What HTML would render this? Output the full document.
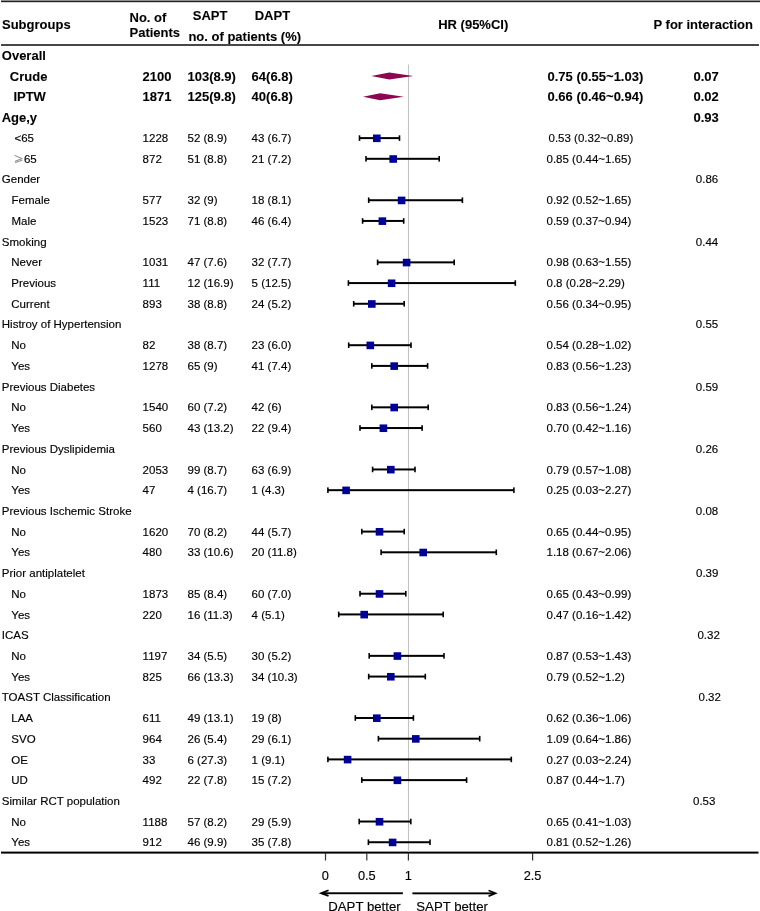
<!DOCTYPE html><html><head><meta charset="utf-8"><style>html,body{margin:0;padding:0;background:#fff;width:760px;height:911px;overflow:hidden}svg{display:block;will-change:transform}text{font-family:"Liberation Sans",sans-serif;fill:#000}.b{font-weight:bold;font-size:13px;stroke:#000;stroke-width:0.1px}.r{font-size:11.5px;stroke:#000;stroke-width:0.15px}</style></head><body>
<svg width="760" height="911" viewBox="0 0 760 911">
<rect x="1" y="0.5" width="759" height="1.7" fill="#222"/>
<rect x="1" y="44.1" width="758" height="1.8" fill="#333"/>
<rect x="1" y="851.6" width="757.5" height="2" fill="#000"/>
<rect x="407.95" y="64.5" width="1.1" height="787.5" fill="#c2c2c2"/>
<text class="b" x="2" y="28.8">Subgroups</text>
<text class="b" x="129.5" y="21.6">No. of</text>
<text class="b" x="129.5" y="37.1">Patients</text>
<text class="b" x="192.8" y="19.9">SAPT</text>
<text class="b" x="254.7" y="19.9">DAPT</text>
<text class="b" x="188.4" y="40.8">no. of patients (%)</text>
<text class="b" x="438.2" y="28.5">HR (95%CI)</text>
<text class="b" x="653.5" y="29.4">P for interaction</text>
<text class="b" x="1.8" y="59.8">Overall</text>
<text class="b" x="9.8" y="80.5">Crude</text>
<text class="b" x="142.6" y="80.5">2100</text>
<text class="b" x="187.5" y="80.5">103(8.9)</text>
<text class="b" x="251.6" y="80.5">64(6.8)</text>
<text class="b" x="547.5" y="80.5">0.75 (0.55~1.03)</text>
<text class="b" x="693.5" y="80.5">0.07</text>
<polygon points="371.3,75.97 389.3,72.47 413.3,75.97 389.3,79.47" fill="#8c0652"/>
<text class="b" x="13.4" y="101.2">IPTW</text>
<text class="b" x="142.6" y="101.2">1871</text>
<text class="b" x="187.5" y="101.2">125(9.8)</text>
<text class="b" x="251.6" y="101.2">40(6.8)</text>
<text class="b" x="547.5" y="101.2">0.66 (0.46~0.94)</text>
<text class="b" x="693.5" y="101.2">0.02</text>
<polygon points="363,96.68 380.1,93.18 403.8,96.68 380.1,100.18" fill="#8c0652"/>
<text class="b" x="1.7" y="121.9">Age,y</text>
<text class="b" x="693.5" y="121.9">0.93</text>
<text class="r" x="14.5" y="141.5">&lt;65</text>
<text class="r" x="142.6" y="141.5">1228</text>
<text class="r" x="187.5" y="141.5">52 (8.9)</text>
<text class="r" x="251.6" y="141.5">43 (6.7)</text>
<text class="r" x="548.5" y="141.5">0.53 (0.32~0.89)</text>
<rect x="359.5" y="137.10" width="40.00" height="2.0" fill="#000"/>
<rect x="358.7" y="135.30" width="1.6" height="5.6" fill="#000"/>
<rect x="398.7" y="135.30" width="1.6" height="5.6" fill="#000"/>
<rect x="373.0" y="134.50" width="7.6" height="7.6" fill="#000098"/>
<path d="M14.6,155.4 L22.2,158.6 L14.9,161.3 M15.2,162.6 L22.2,160.2" stroke="#777" stroke-width="0.9" fill="none"/>
<text class="r" x="23.9" y="162.7">65</text>
<text class="r" x="142.6" y="162.7">872</text>
<text class="r" x="187.5" y="162.7">51 (8.8)</text>
<text class="r" x="251.6" y="162.7">21 (7.2)</text>
<text class="r" x="546.5" y="162.7">0.85 (0.44~1.65)</text>
<rect x="366" y="157.81" width="73.20" height="2.0" fill="#000"/>
<rect x="365.2" y="156.01" width="1.6" height="5.6" fill="#000"/>
<rect x="438.4" y="156.01" width="1.6" height="5.6" fill="#000"/>
<rect x="389.4" y="155.21" width="7.6" height="7.6" fill="#000098"/>
<text class="r" x="1.8" y="183.4">Gender</text>
<text class="r" x="695.8" y="183.4">0.86</text>
<text class="r" x="11.5" y="204.1">Female</text>
<text class="r" x="142.6" y="204.1">577</text>
<text class="r" x="187.5" y="204.1">32 (9)</text>
<text class="r" x="251.6" y="204.1">18 (8.1)</text>
<text class="r" x="546.5" y="204.1">0.92 (0.52~1.65)</text>
<rect x="368.7" y="199.23" width="93.70" height="2.0" fill="#000"/>
<rect x="367.9" y="197.43" width="1.6" height="5.6" fill="#000"/>
<rect x="461.59999999999997" y="197.43" width="1.6" height="5.6" fill="#000"/>
<rect x="397.8" y="196.63" width="7.6" height="7.6" fill="#000098"/>
<text class="r" x="11.5" y="224.8">Male</text>
<text class="r" x="142.6" y="224.8">1523</text>
<text class="r" x="187.5" y="224.8">71 (8.8)</text>
<text class="r" x="251.6" y="224.8">46 (6.4)</text>
<text class="r" x="546.5" y="224.8">0.59 (0.37~0.94)</text>
<rect x="362.6" y="219.94" width="41.10" height="2.0" fill="#000"/>
<rect x="361.8" y="218.14" width="1.6" height="5.6" fill="#000"/>
<rect x="402.9" y="218.14" width="1.6" height="5.6" fill="#000"/>
<rect x="378.59999999999997" y="217.34" width="7.6" height="7.6" fill="#000098"/>
<text class="r" x="1.8" y="245.5">Smoking</text>
<text class="r" x="695.8" y="245.5">0.44</text>
<text class="r" x="11.3" y="266.3">Never</text>
<text class="r" x="142.6" y="266.3">1031</text>
<text class="r" x="187.5" y="266.3">47 (7.6)</text>
<text class="r" x="251.6" y="266.3">32 (7.7)</text>
<text class="r" x="546.5" y="266.3">0.98 (0.63~1.55)</text>
<rect x="377.6" y="261.36" width="76.60" height="2.0" fill="#000"/>
<rect x="376.8" y="259.56" width="1.6" height="5.6" fill="#000"/>
<rect x="453.4" y="259.56" width="1.6" height="5.6" fill="#000"/>
<rect x="402.8" y="258.76" width="7.6" height="7.6" fill="#000098"/>
<text class="r" x="11.3" y="287.0">Previous</text>
<text class="r" x="142.6" y="287.0">111</text>
<text class="r" x="187.5" y="287.0">12 (16.9)</text>
<text class="r" x="251.6" y="287.0">5 (12.5)</text>
<text class="r" x="546.5" y="287.0">0.8 (0.28~2.29)</text>
<rect x="348.4" y="282.07" width="166.90" height="2.0" fill="#000"/>
<rect x="347.59999999999997" y="280.27" width="1.6" height="5.6" fill="#000"/>
<rect x="514.5" y="280.27" width="1.6" height="5.6" fill="#000"/>
<rect x="387.8" y="279.47" width="7.6" height="7.6" fill="#000098"/>
<text class="r" x="11.3" y="307.7">Current</text>
<text class="r" x="142.6" y="307.7">893</text>
<text class="r" x="187.5" y="307.7">38 (8.8)</text>
<text class="r" x="251.6" y="307.7">24 (5.2)</text>
<text class="r" x="546.5" y="307.7">0.56 (0.34~0.95)</text>
<rect x="353.7" y="302.78" width="50.50" height="2.0" fill="#000"/>
<rect x="352.9" y="300.98" width="1.6" height="5.6" fill="#000"/>
<rect x="403.4" y="300.98" width="1.6" height="5.6" fill="#000"/>
<rect x="368.0" y="300.18" width="7.6" height="7.6" fill="#000098"/>
<text class="r" x="1.8" y="328.4">Histroy of Hypertension</text>
<text class="r" x="695.8" y="328.4">0.55</text>
<text class="r" x="11.3" y="349.1">No</text>
<text class="r" x="142.6" y="349.1">82</text>
<text class="r" x="187.5" y="349.1">38 (8.7)</text>
<text class="r" x="251.6" y="349.1">23 (6.0)</text>
<text class="r" x="546.5" y="349.1">0.54 (0.28~1.02)</text>
<rect x="348.7" y="344.20" width="62.30" height="2.0" fill="#000"/>
<rect x="347.9" y="342.40" width="1.6" height="5.6" fill="#000"/>
<rect x="410.2" y="342.40" width="1.6" height="5.6" fill="#000"/>
<rect x="366.5" y="341.60" width="7.6" height="7.6" fill="#000098"/>
<text class="r" x="11.3" y="369.9">Yes</text>
<text class="r" x="142.6" y="369.9">1278</text>
<text class="r" x="187.5" y="369.9">65 (9)</text>
<text class="r" x="251.6" y="369.9">41 (7.4)</text>
<text class="r" x="546.5" y="369.9">0.83 (0.56~1.23)</text>
<rect x="371.8" y="364.91" width="55.80" height="2.0" fill="#000"/>
<rect x="371.0" y="363.11" width="1.6" height="5.6" fill="#000"/>
<rect x="426.8" y="363.11" width="1.6" height="5.6" fill="#000"/>
<rect x="390.4" y="362.31" width="7.6" height="7.6" fill="#000098"/>
<text class="r" x="1.8" y="390.6">Previous Diabetes</text>
<text class="r" x="695.8" y="390.6">0.59</text>
<text class="r" x="11.3" y="411.3">No</text>
<text class="r" x="142.6" y="411.3">1540</text>
<text class="r" x="187.5" y="411.3">60 (7.2)</text>
<text class="r" x="251.6" y="411.3">42 (6)</text>
<text class="r" x="546.5" y="411.3">0.83 (0.56~1.24)</text>
<rect x="371.8" y="406.33" width="56.40" height="2.0" fill="#000"/>
<rect x="371.0" y="404.53" width="1.6" height="5.6" fill="#000"/>
<rect x="427.4" y="404.53" width="1.6" height="5.6" fill="#000"/>
<rect x="390.4" y="403.73" width="7.6" height="7.6" fill="#000098"/>
<text class="r" x="11.3" y="432.0">Yes</text>
<text class="r" x="142.6" y="432.0">560</text>
<text class="r" x="187.5" y="432.0">43 (13.2)</text>
<text class="r" x="251.6" y="432.0">22 (9.4)</text>
<text class="r" x="546.5" y="432.0">0.70 (0.42~1.16)</text>
<rect x="360" y="427.04" width="62.10" height="2.0" fill="#000"/>
<rect x="359.2" y="425.24" width="1.6" height="5.6" fill="#000"/>
<rect x="421.3" y="425.24" width="1.6" height="5.6" fill="#000"/>
<rect x="379.59999999999997" y="424.44" width="7.6" height="7.6" fill="#000098"/>
<text class="r" x="1.8" y="452.7">Previous Dyslipidemia</text>
<text class="r" x="695.8" y="452.7">0.26</text>
<text class="r" x="11.3" y="473.5">No</text>
<text class="r" x="142.6" y="473.5">2053</text>
<text class="r" x="187.5" y="473.5">99 (8.7)</text>
<text class="r" x="251.6" y="473.5">63 (6.9)</text>
<text class="r" x="546.5" y="473.5">0.79 (0.57~1.08)</text>
<rect x="372.6" y="468.46" width="42.40" height="2.0" fill="#000"/>
<rect x="371.8" y="466.66" width="1.6" height="5.6" fill="#000"/>
<rect x="414.2" y="466.66" width="1.6" height="5.6" fill="#000"/>
<rect x="387.0" y="465.86" width="7.6" height="7.6" fill="#000098"/>
<text class="r" x="11.3" y="494.2">Yes</text>
<text class="r" x="142.6" y="494.2">47</text>
<text class="r" x="187.5" y="494.2">4 (16.7)</text>
<text class="r" x="251.6" y="494.2">1 (4.3)</text>
<text class="r" x="546.5" y="494.2">0.25 (0.03~2.27)</text>
<rect x="327.9" y="489.17" width="186.00" height="2.0" fill="#000"/>
<rect x="327.09999999999997" y="487.37" width="1.6" height="5.6" fill="#000"/>
<rect x="513.1" y="487.37" width="1.6" height="5.6" fill="#000"/>
<rect x="342.3" y="486.57" width="7.6" height="7.6" fill="#000098"/>
<text class="r" x="1.8" y="514.9">Previous Ischemic Stroke</text>
<text class="r" x="695.8" y="514.9">0.08</text>
<text class="r" x="11.3" y="535.6">No</text>
<text class="r" x="142.6" y="535.6">1620</text>
<text class="r" x="187.5" y="535.6">70 (8.2)</text>
<text class="r" x="251.6" y="535.6">44 (5.7)</text>
<text class="r" x="546.5" y="535.6">0.65 (0.44~0.95)</text>
<rect x="361.8" y="530.59" width="42.40" height="2.0" fill="#000"/>
<rect x="361.0" y="528.79" width="1.6" height="5.6" fill="#000"/>
<rect x="403.4" y="528.79" width="1.6" height="5.6" fill="#000"/>
<rect x="375.7" y="527.99" width="7.6" height="7.6" fill="#000098"/>
<text class="r" x="11.3" y="556.3">Yes</text>
<text class="r" x="142.6" y="556.3">480</text>
<text class="r" x="187.5" y="556.3">33 (10.6)</text>
<text class="r" x="251.6" y="556.3">20 (11.8)</text>
<text class="r" x="546.5" y="556.3">1.18 (0.67~2.06)</text>
<rect x="381.1" y="551.30" width="115.20" height="2.0" fill="#000"/>
<rect x="380.3" y="549.50" width="1.6" height="5.6" fill="#000"/>
<rect x="495.5" y="549.50" width="1.6" height="5.6" fill="#000"/>
<rect x="419.4" y="548.70" width="7.6" height="7.6" fill="#000098"/>
<text class="r" x="1.8" y="577.1">Prior antiplatelet</text>
<text class="r" x="696.0" y="577.1">0.39</text>
<text class="r" x="11.3" y="597.8">No</text>
<text class="r" x="142.6" y="597.8">1873</text>
<text class="r" x="187.5" y="597.8">85 (8.4)</text>
<text class="r" x="251.6" y="597.8">60 (7.0)</text>
<text class="r" x="546.5" y="597.8">0.65 (0.43~0.99)</text>
<rect x="360" y="592.72" width="45.80" height="2.0" fill="#000"/>
<rect x="359.2" y="590.92" width="1.6" height="5.6" fill="#000"/>
<rect x="405.0" y="590.92" width="1.6" height="5.6" fill="#000"/>
<rect x="375.7" y="590.12" width="7.6" height="7.6" fill="#000098"/>
<text class="r" x="11.3" y="618.5">Yes</text>
<text class="r" x="142.6" y="618.5">220</text>
<text class="r" x="187.5" y="618.5">16 (11.3)</text>
<text class="r" x="251.6" y="618.5">4 (5.1)</text>
<text class="r" x="546.5" y="618.5">0.47 (0.16~1.42)</text>
<rect x="338.7" y="613.43" width="104.50" height="2.0" fill="#000"/>
<rect x="337.9" y="611.63" width="1.6" height="5.6" fill="#000"/>
<rect x="442.4" y="611.63" width="1.6" height="5.6" fill="#000"/>
<rect x="360.4" y="610.83" width="7.6" height="7.6" fill="#000098"/>
<text class="r" x="1.8" y="639.2">ICAS</text>
<text class="r" x="697.4" y="639.2">0.32</text>
<text class="r" x="11.3" y="660.0">No</text>
<text class="r" x="142.6" y="660.0">1197</text>
<text class="r" x="187.5" y="660.0">34 (5.5)</text>
<text class="r" x="251.6" y="660.0">30 (5.2)</text>
<text class="r" x="546.5" y="660.0">0.87 (0.53~1.43)</text>
<rect x="369.2" y="654.85" width="74.80" height="2.0" fill="#000"/>
<rect x="368.4" y="653.05" width="1.6" height="5.6" fill="#000"/>
<rect x="443.2" y="653.05" width="1.6" height="5.6" fill="#000"/>
<rect x="393.59999999999997" y="652.25" width="7.6" height="7.6" fill="#000098"/>
<text class="r" x="11.3" y="680.7">Yes</text>
<text class="r" x="142.6" y="680.7">825</text>
<text class="r" x="187.5" y="680.7">66 (13.3)</text>
<text class="r" x="251.6" y="680.7">34 (10.3)</text>
<text class="r" x="546.5" y="680.7">0.79 (0.52~1.2)</text>
<rect x="368.7" y="675.56" width="56.60" height="2.0" fill="#000"/>
<rect x="367.9" y="673.76" width="1.6" height="5.6" fill="#000"/>
<rect x="424.5" y="673.76" width="1.6" height="5.6" fill="#000"/>
<rect x="387.0" y="672.96" width="7.6" height="7.6" fill="#000098"/>
<text class="r" x="1.8" y="701.4">TOAST Classification</text>
<text class="r" x="698.5" y="701.4">0.32</text>
<text class="r" x="11.3" y="722.1">LAA</text>
<text class="r" x="142.6" y="722.1">611</text>
<text class="r" x="187.5" y="722.1">49 (13.1)</text>
<text class="r" x="251.6" y="722.1">19 (8)</text>
<text class="r" x="546.5" y="722.1">0.62 (0.36~1.06)</text>
<rect x="355.3" y="716.98" width="58.10" height="2.0" fill="#000"/>
<rect x="354.5" y="715.18" width="1.6" height="5.6" fill="#000"/>
<rect x="412.59999999999997" y="715.18" width="1.6" height="5.6" fill="#000"/>
<rect x="373.0" y="714.38" width="7.6" height="7.6" fill="#000098"/>
<text class="r" x="11.3" y="742.8">SVO</text>
<text class="r" x="142.6" y="742.8">964</text>
<text class="r" x="187.5" y="742.8">26 (5.4)</text>
<text class="r" x="251.6" y="742.8">29 (6.1)</text>
<text class="r" x="546.5" y="742.8">1.09 (0.64~1.86)</text>
<rect x="378.4" y="737.69" width="101.30" height="2.0" fill="#000"/>
<rect x="377.59999999999997" y="735.89" width="1.6" height="5.6" fill="#000"/>
<rect x="478.9" y="735.89" width="1.6" height="5.6" fill="#000"/>
<rect x="412.0" y="735.09" width="7.6" height="7.6" fill="#000098"/>
<text class="r" x="11.3" y="763.5">OE</text>
<text class="r" x="142.6" y="763.5">33</text>
<text class="r" x="187.5" y="763.5">6 (27.3)</text>
<text class="r" x="251.6" y="763.5">1 (9.1)</text>
<text class="r" x="546.5" y="763.5">0.27 (0.03~2.24)</text>
<rect x="327.9" y="758.40" width="183.40" height="2.0" fill="#000"/>
<rect x="327.09999999999997" y="756.60" width="1.6" height="5.6" fill="#000"/>
<rect x="510.5" y="756.60" width="1.6" height="5.6" fill="#000"/>
<rect x="343.8" y="755.80" width="7.6" height="7.6" fill="#000098"/>
<text class="r" x="11.3" y="784.3">UD</text>
<text class="r" x="142.6" y="784.3">492</text>
<text class="r" x="187.5" y="784.3">22 (7.8)</text>
<text class="r" x="251.6" y="784.3">15 (7.2)</text>
<text class="r" x="546.5" y="784.3">0.87 (0.44~1.7)</text>
<rect x="361.8" y="779.11" width="104.80" height="2.0" fill="#000"/>
<rect x="361.0" y="777.31" width="1.6" height="5.6" fill="#000"/>
<rect x="465.8" y="777.31" width="1.6" height="5.6" fill="#000"/>
<rect x="393.59999999999997" y="776.51" width="7.6" height="7.6" fill="#000098"/>
<text class="r" x="1.8" y="805.0">Similar RCT population</text>
<text class="r" x="693.0" y="805.0">0.53</text>
<text class="r" x="11.3" y="825.7">No</text>
<text class="r" x="142.6" y="825.7">1188</text>
<text class="r" x="187.5" y="825.7">57 (8.2)</text>
<text class="r" x="251.6" y="825.7">29 (5.9)</text>
<text class="r" x="546.5" y="825.7">0.65 (0.41~1.03)</text>
<rect x="359.2" y="820.53" width="51.60" height="2.0" fill="#000"/>
<rect x="358.4" y="818.73" width="1.6" height="5.6" fill="#000"/>
<rect x="410.0" y="818.73" width="1.6" height="5.6" fill="#000"/>
<rect x="375.7" y="817.93" width="7.6" height="7.6" fill="#000098"/>
<text class="r" x="11.3" y="846.4">Yes</text>
<text class="r" x="142.6" y="846.4">912</text>
<text class="r" x="187.5" y="846.4">46 (9.9)</text>
<text class="r" x="251.6" y="846.4">35 (7.8)</text>
<text class="r" x="546.5" y="846.4">0.81 (0.52~1.26)</text>
<rect x="368.4" y="841.24" width="61.60" height="2.0" fill="#000"/>
<rect x="367.59999999999997" y="839.44" width="1.6" height="5.6" fill="#000"/>
<rect x="429.2" y="839.44" width="1.6" height="5.6" fill="#000"/>
<rect x="388.8" y="838.64" width="7.6" height="7.6" fill="#000098"/>
<rect x="324.9" y="853" width="1.2" height="7.5" fill="#333"/>
<rect x="366.2" y="853" width="1.2" height="7.5" fill="#333"/>
<rect x="407.79999999999995" y="853" width="1.2" height="7.5" fill="#333"/>
<rect x="532.0" y="853" width="1.2" height="7.5" fill="#333"/>
<text class="r" x="325.4" y="880.3" text-anchor="middle" style="font-size:12.8px">0</text>
<text class="r" x="366.8" y="880.3" text-anchor="middle" style="font-size:12.8px">0.5</text>
<text class="r" x="408.4" y="880.3" text-anchor="middle" style="font-size:12.8px">1</text>
<text class="r" x="532.6" y="880.3" text-anchor="middle" style="font-size:12.8px">2.5</text>
<rect x="322" y="892.3" width="80.9" height="1.9" fill="#000"/>
<polygon points="318.6,893.2 328.2,889.5 328.9,890.9 324.2,893.1 328.9,895.3 328.2,896.7" fill="#000"/>
<rect x="412.4" y="892.4" width="82" height="1.9" fill="#000"/>
<polygon points="497.8,893.3 488.9,889.7 488.2,891.1 492.9,893.3 488.2,895.5 488.9,896.9" fill="#000"/>
<text class="r" x="328.3" y="910.8" style="font-size:13.2px">DAPT better</text>
<text class="r" x="416.3" y="910.8" style="font-size:13.2px">SAPT better</text>
</svg></body></html>
